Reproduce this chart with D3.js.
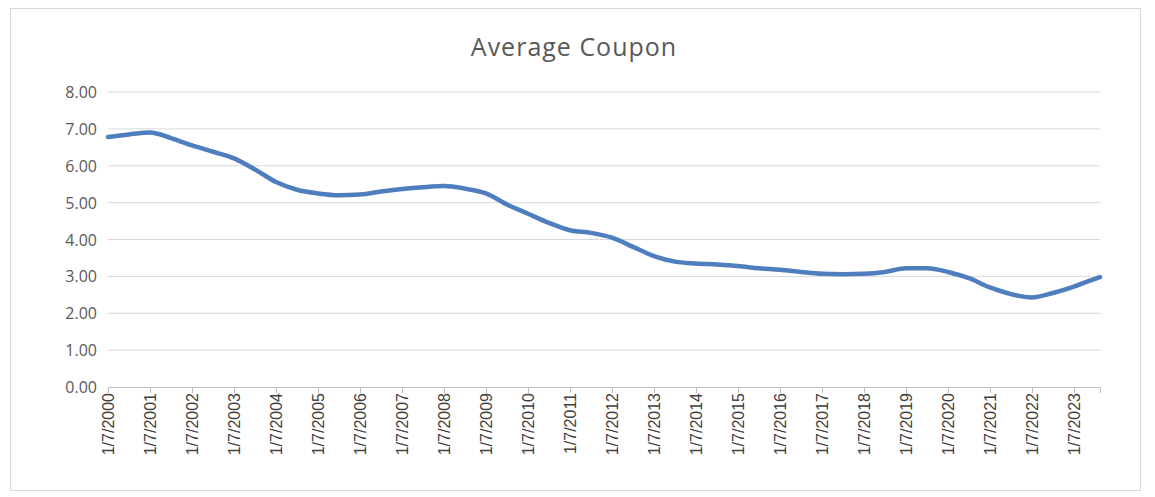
<!DOCTYPE html>
<html><head><meta charset="utf-8">
<script src="https://cdn.jsdelivr.net/npm/d3@7"></script>
<style>body{margin:0;background:#fff}</style></head>
<body><svg id="c" width="1155" height="497"></svg>
<script>
const times=[2000,2000.5,2001,2001.5,2002,2002.5,2003,2003.5,2004,2004.5,2005,2005.5,2006,2006.5,2007,2007.5,2008,2008.5,2009,2009.5,2010,2010.5,2011,2011.5,2012,2012.5,2013,2013.5,2014,2014.5,2015,2015.5,2016,2016.5,2017,2017.5,2018,2018.5,2019,2019.5,2020,2020.5,2021,2021.5,2022,2022.5,2023,2023.3,2023.62];
const coupon=[6.78,6.85,6.9,6.75,6.55,6.38,6.2,5.9,5.56,5.35,5.25,5.2,5.22,5.3,5.37,5.42,5.45,5.38,5.25,4.95,4.7,4.45,4.25,4.18,4.05,3.8,3.55,3.4,3.35,3.32,3.28,3.22,3.18,3.12,3.07,3.06,3.07,3.12,3.22,3.22,3.12,2.95,2.7,2.52,2.43,2.55,2.72,2.85,2.98];
const years=d3.range(2000,2024);
const yTicks=[0,1,2,3,4,5,6,7,8];
const svg=d3.select("#c");
svg.append("rect").attr("x",10.5).attr("y",8.5).attr("width",1130).attr("height",482).attr("fill","#fff").attr("stroke","#d9d9d9");
const x=d3.scaleLinear().domain([2000,2023.62]).range([108,1100]);
const y=d3.scaleLinear().domain([0,8]).range([387,92]);
svg.append("text").attr("x",574).attr("y",56).attr("text-anchor","middle").attr("font-family","Open Sans, sans-serif").attr("font-size",25).attr("letter-spacing",1).attr("fill","#595959").text("Average Coupon");
svg.append("g").selectAll("line").data(yTicks.slice(1)).join("line").attr("x1",108).attr("x2",1100).attr("y1",d=>y(d)).attr("y2",d=>y(d)).attr("stroke","#d9d9d9");
svg.append("g").selectAll("text").data(yTicks).join("text").attr("x",97).attr("y",d=>y(d)+6).attr("text-anchor","end").attr("font-family","Open Sans, sans-serif").attr("font-size",16).attr("fill","#595959").text(d=>d.toFixed(2));
const xa=svg.append("g").attr("transform","translate(0,387)").call(d3.axisBottom(x).tickValues(years).tickSize(6).tickFormat(""));
xa.select(".domain").attr("stroke","#bfbfbf");xa.selectAll("line").attr("stroke","#bfbfbf");
svg.append("g").selectAll("text").data(years).join("text").attr("transform",d=>`translate(${x(d)+6},393) rotate(-90)`).attr("text-anchor","end").attr("font-family","Liberation Sans Narrow, Liberation Sans, sans-serif").attr("font-size",16).attr("fill","#404040").text(d=>"1/7/"+d);
svg.append("path").datum(times.map((t,i)=>[t,coupon[i]])).attr("fill","none").attr("stroke","#4e7ebd").attr("stroke-width",4.5).attr("stroke-linecap","round").attr("d",d3.line().x(d=>x(d[0])).y(d=>y(d[1])).curve(d3.curveMonotoneX));
</script></body></html>
